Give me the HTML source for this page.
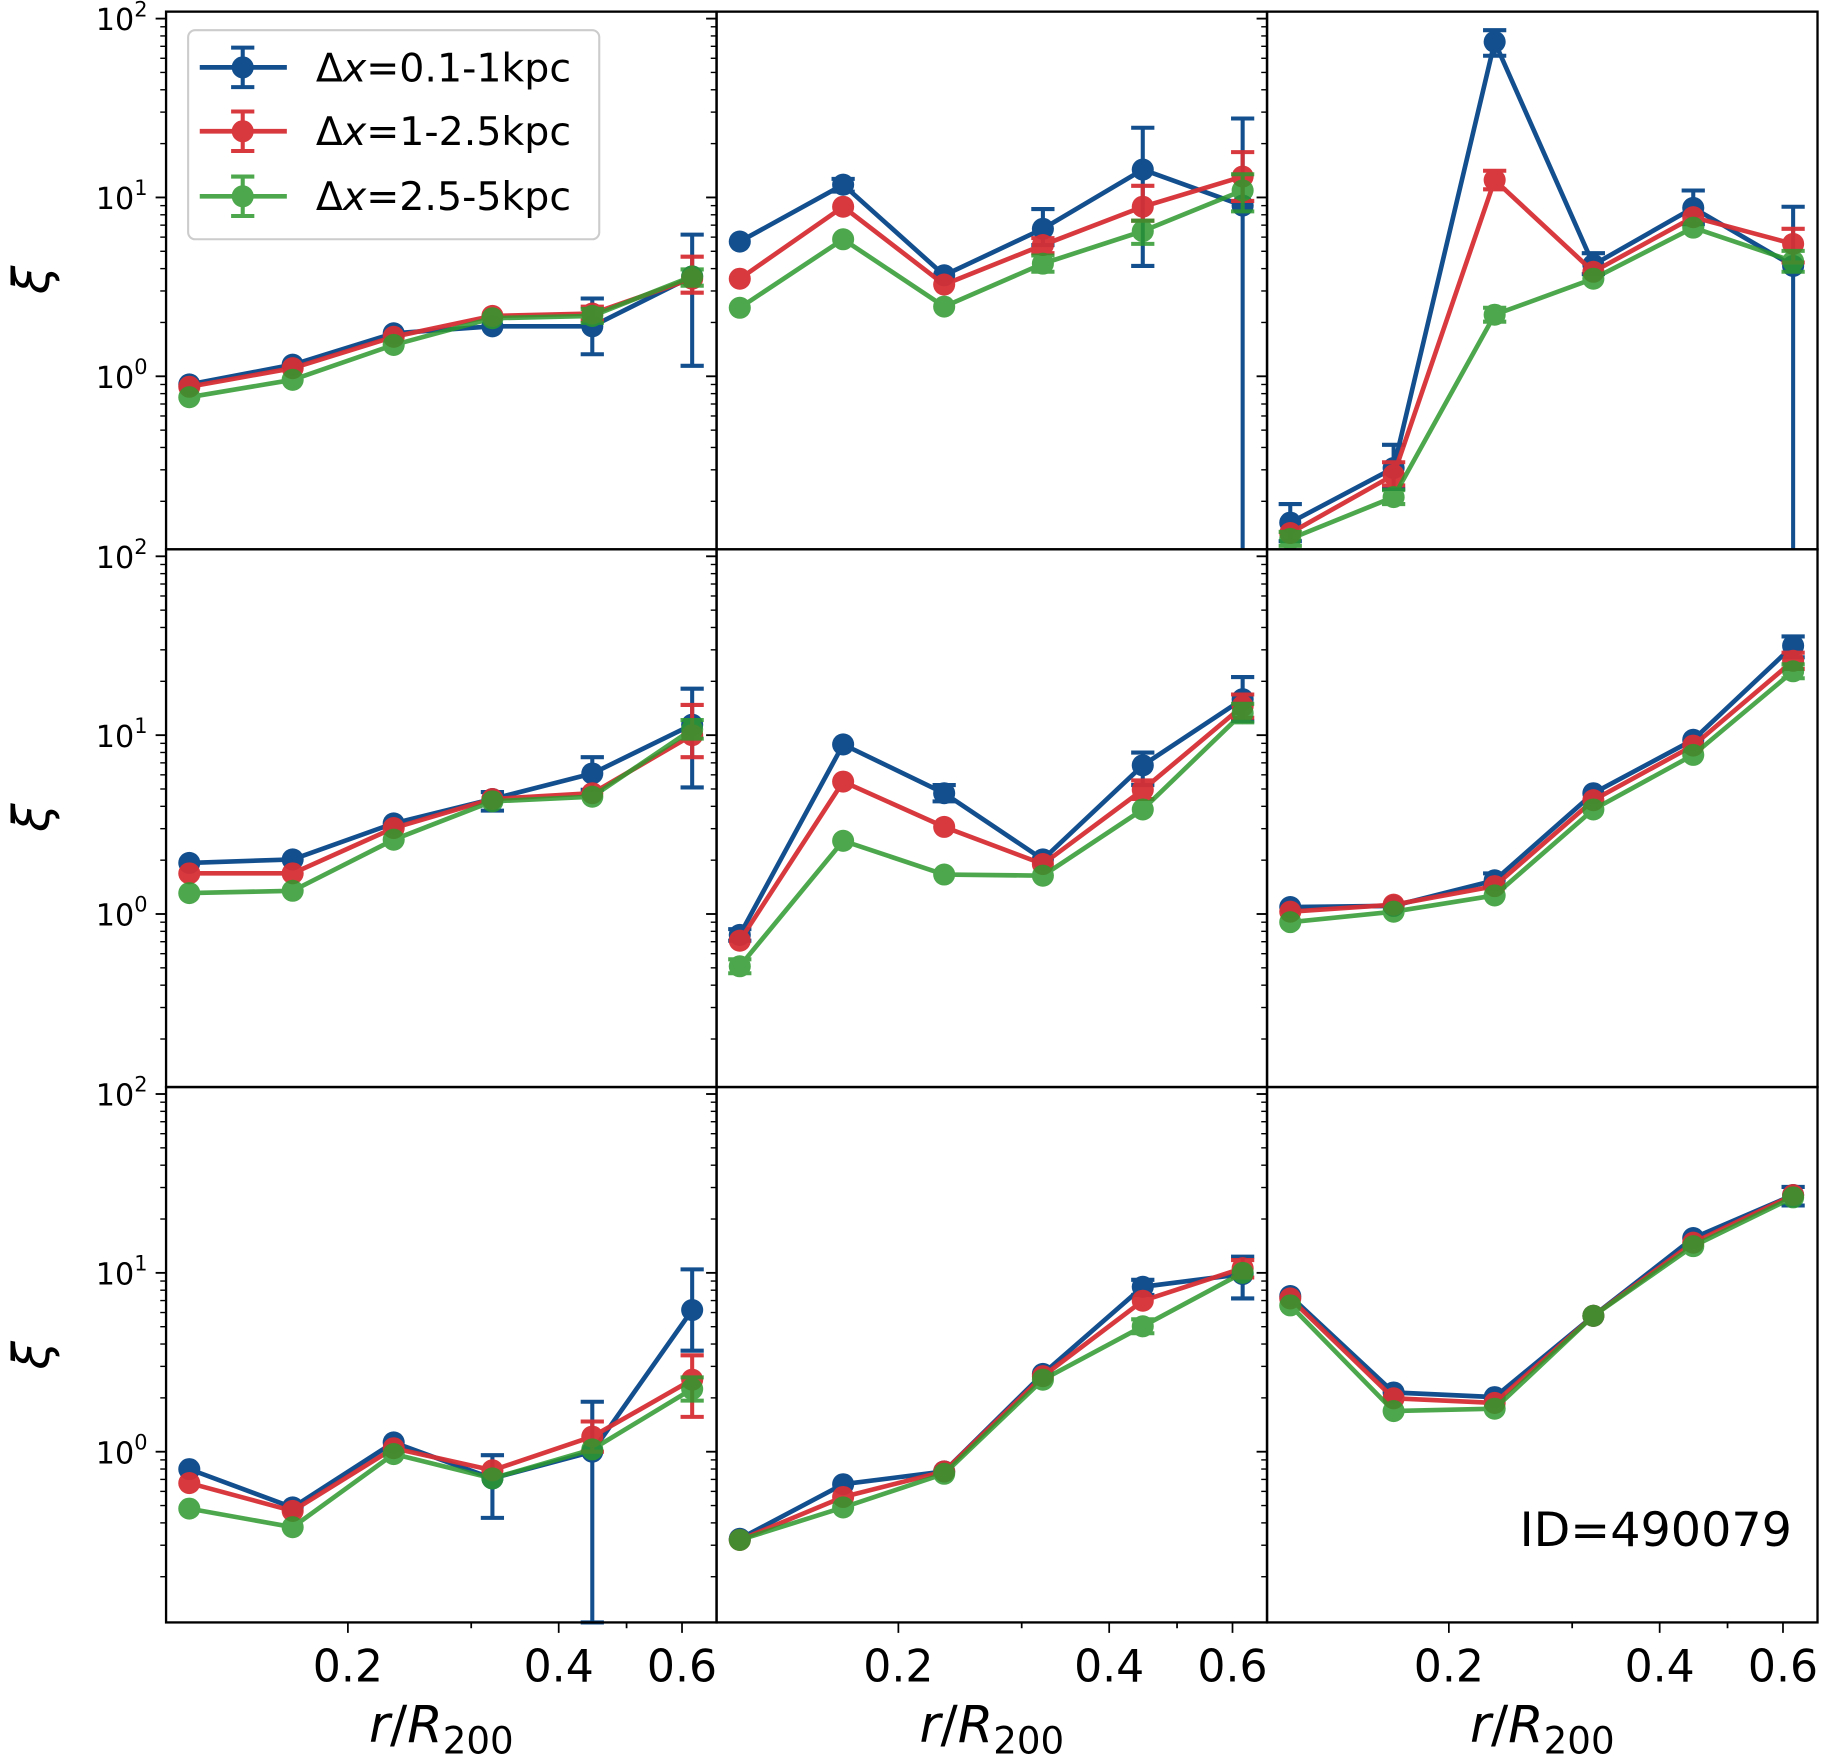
<!DOCTYPE html>
<html><head><meta charset="utf-8"><style>
html,body{margin:0;padding:0;background:#fff;}
svg{display:block;}
text{font-family:"DejaVu Sans","Liberation Sans",sans-serif;fill:#000;}
</style></head><body>
<svg id="s" xmlns="http://www.w3.org/2000/svg" width="1821" height="1756" viewBox="0 0 1568 1512"></svg>
<script>
var S=document.getElementById('s'),h='';
var X0=[143,617,1091],Y0=[10,473,936],W=474,H=463;
var OFF=[20,109,196,281,367,453];
var C=['#134f8e','#d62f35','#2e9a2e'],OP=[1,0.95,0.85];
var P=[
 [[331,314,287,281,281,238],[333,317,290,272,270,240],[342,327,297,274,272,238],
  {0:{4:[257,305],5:[202,315]},1:{5:[221,252],4:[264,276]},2:{4:[266,278],5:[232,246]}}],
 [[208,159,237,197,146,177],[240,178,245,211,178,152],[265,206,264,227,199,164],
  {0:{1:[154,165],3:[180,211],4:[110,229],5:[102,473]},1:{4:[160,190],5:[131,173],3:[205,218]},2:{4:[190,210],5:[150,182],3:[220,234]}}],
 [[450,403,36,228,179,229],[459,409,155,234,187,210],[464,428,271,240,196,225],
  {0:{0:[434,466],1:[383,421],2:[26,48],3:[218,236],4:[164,193],5:[178,473]},1:{2:[147,163],5:[197,226],1:[398,418]},2:{1:[422,434],2:[265,277],5:[216,234],0:[458,470]}}],
 [[743,740,709,688,666,624],[752,752,713,688,683,633],[769,767,723,690,686,628],
  {0:{4:[652,680],5:[593,678],3:[682,698]},1:{5:[607,652]},2:{5:[620,636]}}],
 [[805,641,683,740,659,602],[810,673,712,744,680,608],[832,724,753,754,697,614],
  {0:{4:[648,676],5:[583,621],0:[800,810],2:[676,690]},1:{5:[598,618],4:[672,688]},2:{0:[826,838],5:[606,622]}}],
 [[781,780,758,683,637,556],[785,779,763,689,642,569],[794,785,771,697,650,578],
  {0:{5:[548,566],2:[752,764]},1:{5:[562,576]},2:{5:[572,584]}}],
 [[1265,1298,1242,1273,1250,1128],[1277,1301,1247,1266,1237,1188],[1299,1315,1252,1273,1248,1196],
  {0:{4:[1207,1397],3:[1253,1307],5:[1093,1163]},1:{5:[1167,1220],4:[1224,1250]},2:{5:[1186,1206]}}],
 [[1325,1278,1267,1183,1108,1097],[1326,1289,1267,1185,1120,1092],[1326,1298,1269,1188,1142,1096],
  {0:{5:[1082,1118],4:[1102,1115]},1:{5:[1085,1100]},2:{4:[1136,1148]}}],
 [[1116,1199,1203,1133,1066,1029],[1118,1204,1208,1133,1070,1029],[1124,1215,1213,1133,1073,1031],
  {0:{5:[1022,1038]},1:{},2:{}}]
];
for(var r=0;r<3;r++)for(var c=0;c<3;c++){
 var x0=X0[c],y0=Y0[r];
 for(var d=0;d<4;d++){var my=y0+6+d*154;
  if(d<3){h+='<line x1="'+(x0-9)+'" x2="'+x0+'" y1="'+my+'" y2="'+my+'" stroke="#000" stroke-width="1.6"/>';}
  for(var k=2;k<10;k++){var yy=my-Math.log10(k)*154; if(yy>y0&&yy<y0+H) h+='<line x1="'+(x0-5)+'" x2="'+x0+'" y1="'+yy+'" y2="'+yy+'" stroke="#000" stroke-width="1.2"/>';}
 }
 if(c==0){var labs=['2','1','0'];for(var d=0;d<3;d++){var my=y0+6+d*154;
  h+='<text x="127" y="'+(my+10)+'" font-size="26" text-anchor="end">10<tspan dy="-12" font-size="18">'+labs[d]+'</tspan></text>';}
  h+='<text x="0" y="0" font-size="44" font-style="italic" transform="translate(42,'+(y0+231)+') rotate(-90)" text-anchor="middle">ξ</text>';}
 if(r==2){var yb=y0+461;
  [[0.2,1],[0.3,0],[0.4,1],[0.5,0],[0.6,1]].forEach(function(t){var xx=x0+(Math.log10(t[0])-Math.log10(0.110))*603;
   h+='<line x1="'+xx+'" x2="'+xx+'" y1="'+yb+'" y2="'+(yb+(t[1]?9:5))+'" stroke="#000" stroke-width="1.5"/>';
   if(t[1])h+='<text x="'+xx+'" y="'+(yb+51)+'" font-size="38" text-anchor="middle">'+t[0]+'</text>';});
  h+='<text x="'+(x0+237)+'" y="1500" font-size="44" text-anchor="middle"><tspan font-style="italic">r</tspan>/<tspan font-style="italic">R</tspan><tspan font-size="32" dy="10">200</tspan></text>';}
}
for(var i=0;i<9;i++){var r=Math.floor(i/3),c=i%3,x0=X0[c],p=P[i];
 for(var s=0;s<3;s++){var ys=p[s],pts=ys.map(function(y,j){return (x0+OFF[j])+','+y;}).join(' ');
  var g='<g opacity="'+OP[s]+'">';
  var eb=p[3][s]||{};
  for(var j in eb){var xx=x0+OFF[j],a=eb[j][0],b=eb[j][1];
   g+='<line x1="'+xx+'" x2="'+xx+'" y1="'+a+'" y2="'+b+'" stroke="'+C[s]+'" stroke-width="3.5"/>';
   if(a>Y0[r]+1)g+='<line x1="'+(xx-10)+'" x2="'+(xx+10)+'" y1="'+a+'" y2="'+a+'" stroke="'+C[s]+'" stroke-width="3.5"/>';
   if(b<Y0[r]+H-1)g+='<line x1="'+(xx-10)+'" x2="'+(xx+10)+'" y1="'+b+'" y2="'+b+'" stroke="'+C[s]+'" stroke-width="3.5"/>';}
  g+='<polyline points="'+pts+'" fill="none" stroke="'+C[s]+'" stroke-width="4" stroke-linejoin="round"/>';
  ys.forEach(function(y,j){g+='<circle cx="'+(x0+OFF[j])+'" cy="'+y+'" r="9.5" fill="'+C[s]+'"/>';});
  h+=g+'</g>';}
}
for(var r=0;r<3;r++)for(var c=0;c<3;c++)h+='<rect x="'+X0[c]+'" y="'+Y0[r]+'" width="'+W+'" height="'+(r==2?461:H)+'" fill="none" stroke="#000" stroke-width="2"/>';
h+='<rect x="162" y="26" width="354" height="180" rx="6" fill="#fff" fill-opacity="0.85" stroke="#ccc" stroke-width="1.8"/>';
var LT=['0.1-1kpc','1-2.5kpc','2.5-5kpc'],LY=[58,113,169];
for(var s=0;s<3;s++){var y=LY[s];
 h+='<g opacity="'+OP[s]+'"><line x1="172" x2="247" y1="'+y+'" y2="'+y+'" stroke="'+C[s]+'" stroke-width="4"/><line x1="209" x2="209" y1="'+(y-17)+'" y2="'+(y+17)+'" stroke="'+C[s]+'" stroke-width="3.5"/><line x1="199" x2="219" y1="'+(y-17)+'" y2="'+(y-17)+'" stroke="'+C[s]+'" stroke-width="3.5"/><line x1="199" x2="219" y1="'+(y+17)+'" y2="'+(y+17)+'" stroke="'+C[s]+'" stroke-width="3.5"/><circle cx="209" cy="'+y+'" r="9.5" fill="'+C[s]+'"/></g>';
 h+='<text x="272" y="'+(y+12)+'" font-size="34">Δ<tspan font-style="italic">x</tspan>='+LT[s]+'</text>';}
h+='<text x="1543" y="1331" font-size="41" text-anchor="end">ID=490079</text>';
S.innerHTML=h;
</script>
</body></html>
